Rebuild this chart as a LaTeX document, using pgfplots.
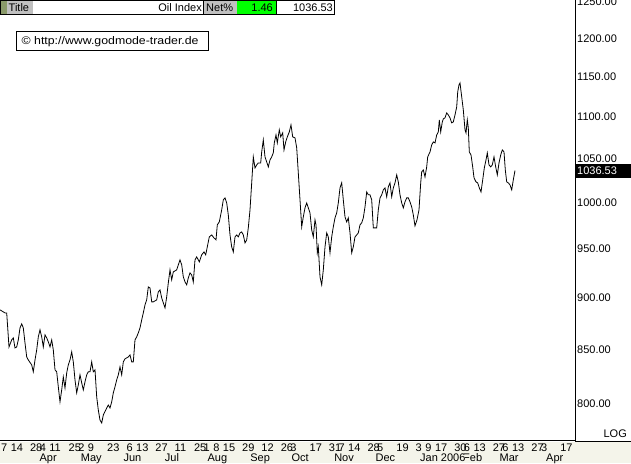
\documentclass[border=0pt]{standalone}
\usepackage{fontspec}
\setmainfont{Liberation Sans}
\usepackage{pgfplots}
\pgfplotsset{compat=1.18}
\definecolor{strip}{RGB}{244,244,234}
\definecolor{hdrgray}{RGB}{192,192,192}
\definecolor{swatch}{RGB}{138,154,106}
\definecolor{netgreen}{RGB}{0,255,0}
\begin{document}
\begin{tikzpicture}[font=\fontsize{11}{13}\selectfont]
\useasboundingbox (0pt,0pt) rectangle (631pt,463pt);
\fill[white] (0pt,0pt) rectangle (631pt,463pt);
\fill[strip] (0pt,0pt) rectangle (631pt,21.5pt);
\begin{axis}[at={(0pt,22pt)}, anchor=south west, scale only axis,
  width=575pt, height=441pt,
  xmin=0, xmax=287.5, ymode=log, ymin=767.8, ymax=1252.6,
  axis x line*=bottom, axis y line*=right,
  axis line style={line width=1pt,-},
  major tick length=0pt,
  tick label style={font=\fontsize{11}{13}\selectfont},
  xtick={0.5,5.32,14.96,19.78,24.6,34.24,39.06,43.88,53.52,63.16,67.98,77.62,87.26,96.9,101.72,106.54,111.36,121.0,130.64,140.28,145.1,154.74,164.38,169.2,174.02,183.66,188.48,198.12,207.76,212.58,217.4,227.04,231.86,236.68,246.32,251.14,255.96,265.6,270.42,280.06},
  xticklabels={7,14,28,4,11,25,2,9,23,6,13,27,11,25,1,8,15,29,12,26,3,17,31,7,14,28,5,19,3,9,17,30,6,13,27,6,13,27,3,17},
  xticklabel style={anchor=north west, inner sep=0pt, yshift=-2.5pt},
  extra x ticks={19.7,40.35,61.7,82.35,103.7,125.05,145.7,167.05,187.7,231.5,249.7,273,210},
  extra x tick labels={Apr,May,Jun,Jul,Aug,Sep,Oct,Nov,Dec,Feb,Mar,Apr,Jan 2006\hspace{4.5pt}},
  extra x tick style={xticklabel style={yshift=-10pt, fill=strip}},
  ytick={800,850,900,950,1000,1050,1100,1150,1200,1250},
  yticklabels={800.00,850.00,900.00,950.00,1000.00,1050.00,1100.00,1150.00,1200.00,1250.00},
  yticklabel style={anchor=west, inner sep=0pt, xshift=2pt},
]
\addplot[black, line width=0.8pt] coordinates {
(0,888.0) (2.5,885.0) (3.35,885.0) (4.5,852.2) (5.85,858.9) (6.65,860.8) (7.5,851.3) (8.35,852.2) (9.15,858.9) (10,870.4)
(10.85,874.3) (11.65,870.4) (12.5,856.0) (13.35,842.8) (14.15,840.0) (15.85,835.4) (16.65,829.0) (17.5,840.0) (18.35,849.4) (19.15,861.8)
(20,868.5) (20.85,861.8) (21.65,852.2) (22.5,863.7) (23.35,860.8) (24.15,857.0) (25,852.2) (25.85,858.9) (26.65,849.4) (27.5,830.8)
(28.35,829.0) (29.15,815.3) (30,801.8) (30.85,812.5) (31.65,824.3) (32.5,814.3) (33.35,828.0) (34.15,835.4) (35,840.0) (35.85,847.5)
(36.65,838.2) (37.5,821.6) (38.35,809.8) (39.15,817.0) (40,826.2) (40.85,818.9) (41.65,812.5) (42.5,819.8) (43.35,826.2) (44.15,829.0)
(45,829.0) (45.85,838.2) (46.65,829.0) (47.5,830.8) (48.35,806.2) (49.15,794.7) (50,785.9) (50.85,783.3) (51.65,790.3) (53.35,796.5)
(54.15,799.1) (55,796.5) (55.85,801.8) (56.65,809.8) (57.5,815.3) (58.35,821.6) (59.15,826.2) (60,833.5) (60.85,826.2) (61.65,838.2)
(62.5,841.0) (64.15,842.8) (65,844.7) (65.85,838.2) (66.65,838.2) (67.5,858.9) (68.35,861.8) (69.15,865.6) (70,870.4) (70.85,878.2)
(71.65,885.0) (72.5,892.9) (73.35,897.9) (74.15,910.9) (75,909.9) (75.85,895.9) (76.65,895.9) (78.35,897.9) (79.15,905.9) (80,907.9)
(80.85,899.9) (81.65,894.9) (82.5,889.9) (83.35,900.9) (84.15,915.0) (85,928.3) (85.85,918.0) (86.65,926.2) (88.35,928.3) (89.15,933.5)
(90,938.6) (90.85,933.5) (91.65,921.1) (92.5,916.0) (93.35,913.0) (94.15,920.1) (95,925.2) (95.85,923.1) (96.65,916.0) (97.5,938.6)
(98.35,941.8) (99.65,936.6) (100.85,943.9) (102,947.0) (102.85,943.9) (103.65,952.3) (104.65,962.9) (105.85,965.0) (107,961.8) (108,959.7)
(108.65,975.9) (109.65,979.1) (110.85,992.2) (111.65,1003.3) (112.5,1005.5) (113.35,999.9) (114.15,986.7) (115,965.0) (115.85,952.3) (116.65,947.0)
(117.5,962.9) (118.35,965.0) (119.15,962.9) (120,967.2) (120.85,968.3) (121.65,965.0) (122.5,956.5) (123.35,959.7) (124.15,972.6) (125,992.2)
(125.85,1022.4) (126.65,1052.3) (127.5,1039.5) (128.35,1043.0) (129.15,1045.3) (130.35,1045.3) (130.85,1058.2) (131.65,1072.4) (132.5,1052.3) (133.35,1046.5)
(134.15,1040.7) (135,1048.8) (135.85,1052.3) (136.65,1057.0) (137.15,1068.8) (138,1078.3) (138.65,1068.8) (139.65,1084.4) (140.35,1075.9) (141.35,1080.7)
(142,1060.5) (142.85,1070.0) (143.65,1075.9) (144.65,1081.9) (145.5,1090.4) (146.35,1075.9) (147.5,1074.8) (148.35,1062.9) (149.15,1033.8) (150,1003.3)
(150.85,973.7) (151.65,984.5) (152.5,994.4) (153.35,999.9) (154.15,994.4) (155,988.9) (155.85,970.4) (156.65,962.9) (157.5,981.3) (158,975.9)
(158.65,946.0) (159.15,952.3) (160,921.1) (160.85,913.0) (161.65,928.3) (162.5,952.3) (163.35,967.2) (164.15,962.9) (165,946.0) (165.85,962.9)
(166.65,973.7) (167.5,983.4) (168.35,988.9) (169.15,999.9) (170,1016.7) (170.85,1022.4) (171.65,1003.3) (172.5,984.5) (173.35,979.1) (174.15,983.4)
(175,967.2) (175.85,946.0) (176.65,952.3) (177.5,962.9) (178.35,965.0) (179.15,967.2) (180,975.9) (180.85,978.0) (181.65,983.4) (182.5,995.5)
(183.35,1012.2) (184.15,1008.9) (185,1008.9) (185.85,1003.3) (186.65,972.6) (188.35,972.6) (189.15,992.2) (190,1005.5) (190.85,1008.9) (191.65,1014.5)
(192.5,1016.7) (193.35,1006.7) (194.15,1017.9) (195,1022.4) (195.85,1006.7) (196.65,1016.7) (197.5,1022.4) (198.35,1031.5) (199.15,1023.5) (200,1008.9)
(200.85,999.9) (201.65,994.4) (202.5,1001.1) (203.35,1005.5) (204.15,1005.5) (205,1001.1) (205.85,995.5) (206.65,986.7) (207.5,974.7) (208.5,981.3)
(209.5,992.2) (210.35,1022.4) (210.85,1035.0) (211.65,1037.2) (212.5,1029.2) (213.35,1040.7) (213.85,1052.3) (215,1058.2) (215.85,1066.4) (216.65,1070.0)
(217.5,1068.8) (218.35,1078.3) (219.15,1081.9) (219.65,1096.4) (220.35,1081.9) (221.15,1094.0) (221.65,1097.7) (222.5,1098.9) (223.35,1105.0) (224.15,1102.5)
(225,1098.9) (225.85,1092.8) (226.65,1094.0) (227.5,1102.5) (228.35,1112.4) (228.85,1131.0) (229.5,1139.9) (230,1142.4) (230.85,1124.8) (231.65,1108.7)
(232.5,1084.4) (233,1080.7) (233.65,1096.4) (234.15,1086.8) (234.65,1058.2) (235.5,1054.6) (236.35,1040.7) (237,1028.1) (238,1023.5) (238.85,1022.4)
(239.65,1016.7) (240.5,1012.2) (241.35,1025.8) (242.15,1039.5) (243,1048.8) (243.65,1057.0) (244.5,1043.0) (245.35,1040.7) (246.15,1043.0) (247,1052.3)
(247.85,1040.7) (248.65,1031.5) (249.5,1045.3) (250.35,1054.6) (251.15,1060.5) (252,1058.2) (252.65,1037.2) (253.35,1023.5) (254.15,1022.4) (255,1020.1)
(255.85,1014.5) (256.65,1025.8) (257.5,1036.53)
};
\end{axis}
\begin{scope}[x=1pt,y=1pt]
% bottom rule runs on under the price scale
\draw[line width=1pt] (575,22) -- (631,22);
% last price marker on the scale
\fill[black] (575,285) rectangle (631,299);
\node[anchor=west, inner sep=0pt, text=white] at (577,292) {1036.53};
\node[anchor=east, inner sep=0pt] at (627,29) {LOG};
% header bar
\fill[white] (0,448) rectangle (335,463);
\fill[swatch] (1,448.5) rectangle (7,462.5);
\fill[hdrgray] (7,448.5) rectangle (33,462.5);
\fill[hdrgray] (204,448.5) rectangle (237,462.5);
\fill[netgreen] (237,448.5) rectangle (275.5,462.5);
\draw[line width=1pt] (0.5,448.5) rectangle (334.5,462.5);
\draw (203.5,448.5) -- (203.5,462.5);
\draw (276,448.5) -- (276,462.5);
\node[anchor=west, inner sep=0pt] at (8.5,455.5) {Title};
\node[anchor=east, inner sep=0pt] at (202,455.5) {Oil Index};
\node[anchor=west, inner sep=0pt] at (206,455.5) {Net\%};
\node[anchor=east, inner sep=0pt] at (273,455.5) {1.46};
\node[anchor=east, inner sep=0pt] at (333,455.5) {1036.53};
% copyright box
\draw[fill=white, line width=1pt] (16.5,431.5) rectangle (208.5,412);
\node[anchor=west, inner sep=0pt] at (21.5,421.75) {\scalebox{1.12}[1]{© http://www.godmode-trader.de}};
\end{scope}
\end{tikzpicture}
\end{document}
